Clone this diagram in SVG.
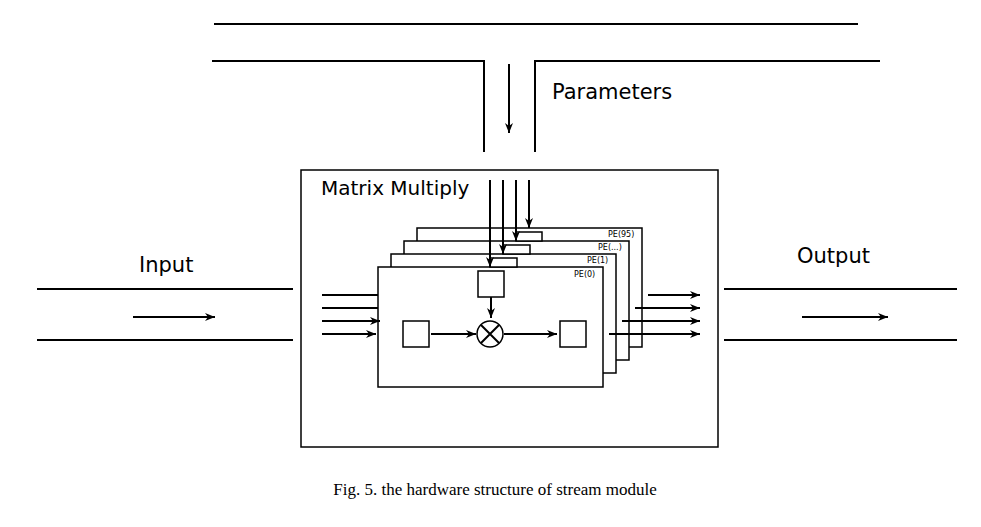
<svg xmlns="http://www.w3.org/2000/svg" width="981" height="527" viewBox="0 0 981 527">
<style>
.l{stroke:#000;stroke-width:2;fill:none}
.b{stroke:#000;stroke-width:1.5;fill:#fff}
.t{font-family:"DejaVu Sans",sans-serif;fill:#000}
.a{stroke:#000;stroke-width:2;fill:none;marker-end:url(#ah)}
</style>
<defs><marker id="ah" viewBox="0 0 10 8" refX="10" refY="4" markerWidth="10" markerHeight="8" markerUnits="userSpaceOnUse" orient="auto"><path d="M0,0L10,4L0,8L3,4Z" fill="#000"/></marker></defs>
<rect width="981" height="527" fill="#fff"/>
<g id="bus">
<path class="l" d="M214,24H858M212,61H484V152M535,152V61H880"/>
<text class="t" x="552" y="99" font-size="21">Parameters</text>
</g>
<g id="input"><path class="l" d="M37,289H293M37,340H293"/><text class="t" x="139" y="272" font-size="21">Input</text></g>
<g id="output"><path class="l" d="M724,289H957M724,340H957"/><text class="t" x="797" y="263" font-size="21">Output</text></g>
<g id="module"><rect class="b" x="301" y="170" width="417" height="277"/><text class="t" x="321" y="195" font-size="20">Matrix Multiply</text></g>
<g id="pe95"><rect class="b" x="417" y="228" width="225" height="119"/><text class="t" x="608" y="237" font-size="8">PE(95)</text></g>
<g id="pedots"><rect class="b" x="404" y="241" width="225" height="119"/><rect class="b" x="516" y="232" width="26" height="9"/><text class="t" x="598" y="250" font-size="8">PE(...)</text></g>
<g id="pe1"><rect class="b" x="391" y="254" width="225" height="119"/><rect class="b" x="503" y="245" width="27" height="9"/><text class="t" x="587" y="263" font-size="8">PE(1)</text></g>
<g id="pe0"><rect class="b" x="378" y="267" width="225" height="120"/><rect class="b" x="490" y="258" width="27" height="9"/><text class="t" x="574" y="277" font-size="8">PE(0)</text>
<rect class="b" x="478" y="271" width="26" height="26"/>
<rect class="b" x="403" y="321" width="26" height="26"/>
<rect class="b" x="560" y="321" width="26" height="26"/>
<circle class="b" cx="490" cy="334" r="13"/>
<path class="l" d="M481,325L499,343M499,325L481,343"/></g>
<g id="connectors">
<path class="l" d="M322,295H378M322,308H378"/>
<path class="a" d="M322,321H380"/>
<path class="a" d="M322,334H376"/>
<path class="a" d="M509,64V133"/>
<path class="a" d="M133,317H215"/>
<path class="a" d="M802,317H888"/>
<path class="a" d="M490,180V267"/>
<path class="a" d="M503,180V254"/>
<path class="a" d="M516,180V241"/>
<path class="a" d="M529,180V228"/>
<path class="a" d="M491,297V318"/>
<path class="a" d="M431,334H476"/>
<path class="a" d="M504,334H557"/>
<path class="a" d="M648,295H700"/>
<path class="a" d="M635,308H700"/>
<path class="a" d="M622,321H700"/>
<path class="a" d="M609,334H700"/>
</g>
<text x="495" y="495" font-family="Liberation Serif,serif" font-size="17" text-anchor="middle">Fig. 5.  the hardware structure of stream module</text>
</svg>
